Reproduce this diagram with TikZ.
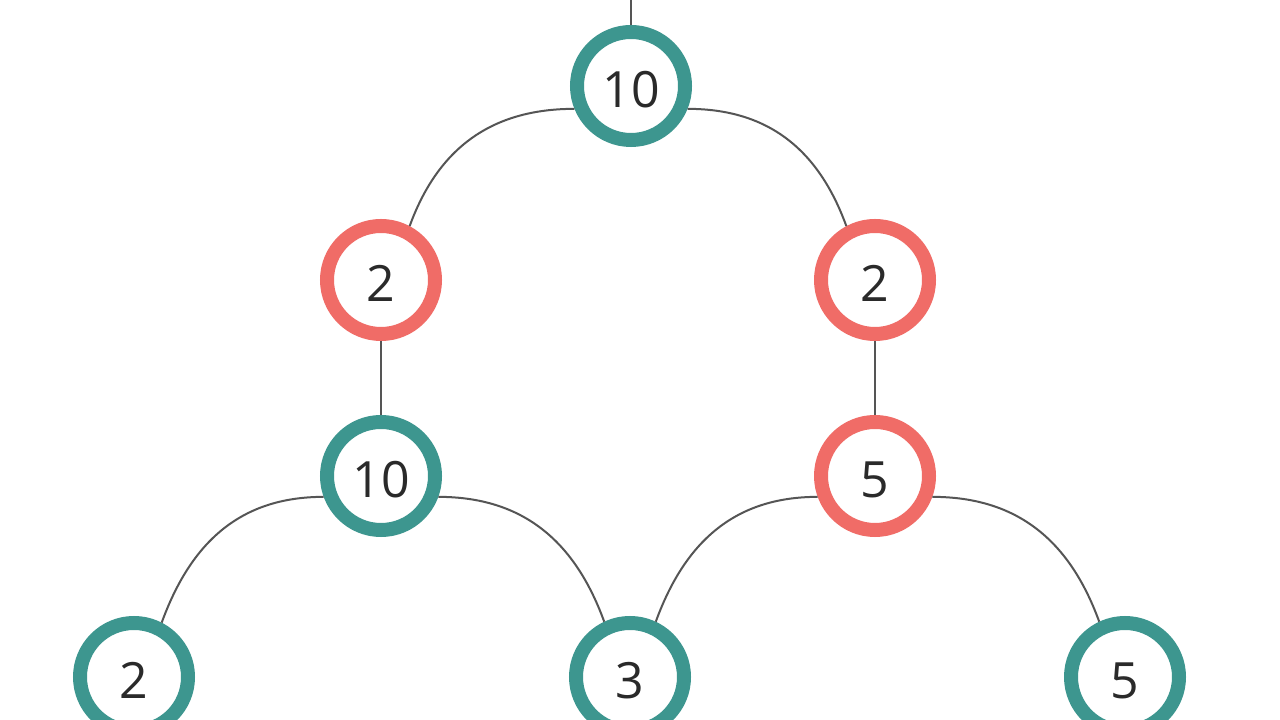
\documentclass[tikz,border=0pt]{standalone}
\usepackage{fontspec}
\setmainfont{Open Sans}
\definecolor{tealring}{HTML}{3D968F}
\definecolor{redring}{HTML}{F06C67}
\definecolor{edgegray}{HTML}{555555}
\definecolor{numcol}{HTML}{2A2A2A}
\tikzset{
  ring/.style={circle, draw=#1, line width=14pt, minimum size=108pt, inner sep=0pt, fill=white,
    text=numcol, font=\fontsize{50}{60}\selectfont, text height=44pt, text depth=0pt},
  tnode/.style={ring=tealring},
  rnode/.style={ring=redring},
  conn/.style={draw=edgegray, line width=2pt}
}
\begin{document}
\begin{tikzpicture}[x=1pt,y=1pt]
\useasboundingbox[fill=white] (0,0) rectangle (1280,720);
\coordinate (topend) at (631,720);
\node[tnode] (root) at (631,634) {10};
\node[rnode] (a) at (381,440) {2};
\node[rnode] (b) at (875,440) {2};
\node[tnode] (c) at (381,244) {10};
\node[rnode] (d) at (875,244) {5};
\node[tnode] (e) at (134,43) {2};
\node[tnode] (f) at (630,43) {3};
\node[tnode] (g) at (1125,43) {5};
\draw[conn] (root.north) -- (topend);
\draw[conn] (root.202) to[out=180,in=70,looseness=1.05] (a.62);
\draw[conn] (root.338) to[out=0,in=110,looseness=1.05] (b.118);
\draw[conn] (a.south) -- (c.north);
\draw[conn] (b.south) -- (d.north);
\draw[conn] (c.200) to[out=180,in=70,looseness=1.05] (e.63);
\draw[conn] (c.340) to[out=0,in=110,looseness=1.05] (f.115);
\draw[conn] (d.200) to[out=180,in=70,looseness=1.05] (f.65);
\draw[conn] (d.340) to[out=0,in=110,looseness=1.05] (g.115);
\end{tikzpicture}
\end{document}
